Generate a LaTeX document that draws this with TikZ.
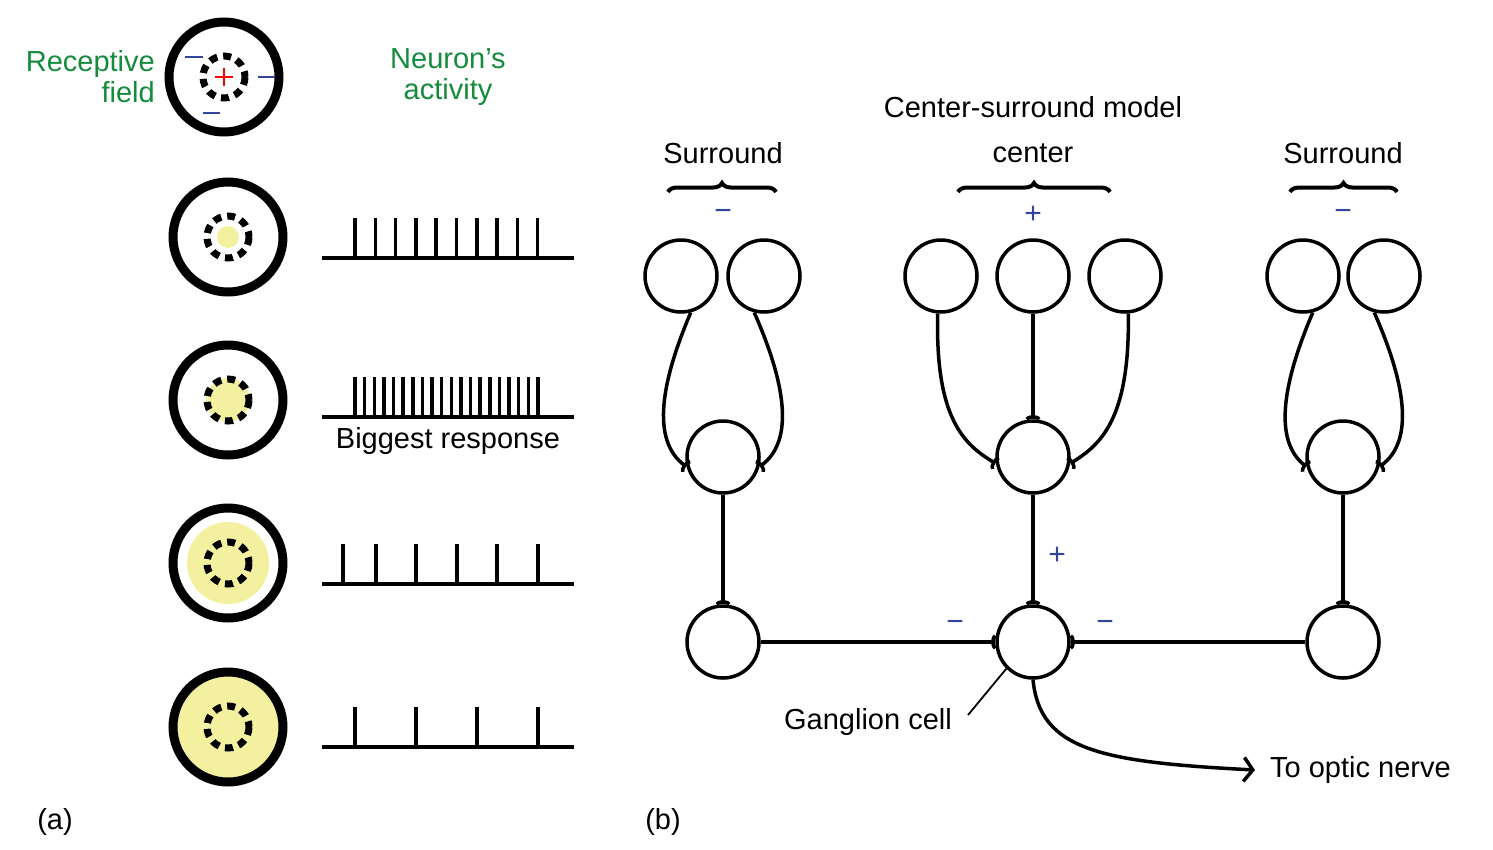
\documentclass[tikz,border=0pt]{standalone}
\usepackage{fontspec}
\setmainfont{Liberation Sans}
\usetikzlibrary{arrows.meta,decorations.pathreplacing}
\definecolor{grn}{RGB}{20,140,60}
\definecolor{blu}{RGB}{50,70,160}
\definecolor{yel}{RGB}{243,240,160}
\begin{document}
\begin{tikzpicture}[x=1pt,y=-1pt,
  txt/.style={font=\fontsize{29}{31}\selectfont,inner sep=0pt},
  gtxt/.style={txt,text=grn,align=center},
  sgn/.style={font=\fontsize{30}{30}\selectfont,text=blu,inner sep=0pt},
  cell/.style={circle,draw,line width=3.5,minimum size=72,inner sep=0},
  ring/.style={draw,line width=9},
  dring/.style={draw,line width=7,dash pattern=on 8 off 6},
  syn/.style={line width=3.5,-{Arc Barb[reversed,length=4pt,width=16pt,line width=3.5]}},
  wire/.style={line width=3.5},
  spk/.style={line width=3.5},
  brc/.style={line width=4,decoration={brace,amplitude=9pt},decorate}]
\useasboundingbox (0,0) rectangle (1493,849);
% ---------- panel (a)
\node[gtxt,align=right,anchor=east] (rf) at (155,77) {Receptive\\field};
\node[gtxt] (na) at (448,77) {Neuron’s\\activity};
\node[txt] (la) at (55,822) {(a)};
\node[txt] (lb) at (663,822) {(b)};
% row 1
\draw[ring] (224,77) circle (55);
\draw[dring] (224,77) circle (21);
\draw[red,line width=1.3] (215,77)--(233,77) (224,68)--(224,86);
\draw[blu,line width=2.2] (185,57)--(203,57) (258,77)--(275,77) (203,113)--(220,113);
% row 2
\fill[yel] (228,237) circle (11);
\draw[ring] (228,237) circle (55);
\draw[dring] (228,237) circle (21);
% row 3
\fill[yel] (228,400) circle (22);
\draw[ring] (228,400) circle (55);
\draw[dring] (228,400) circle (21);
% row 4
\fill[yel] (228,563) circle (41);
\draw[ring] (228,563) circle (55);
\draw[dring] (228,563) circle (21);
% row 5
\fill[yel] (228,727) circle (55);
\draw[ring] (228,727) circle (55);
\draw[dring] (228,727) circle (21);
% spike trains
\draw[spk] (322,258)--(574,258);
\foreach \i in {0,...,9} \draw[spk] (355+\i*20.3,258)--++(0,-40);
\draw[spk] (322,417)--(574,417);
\foreach \i in {0,...,19} \draw[spk] (355+\i*9.63,417)--++(0,-40);
\node[txt] (br) at (448,441) {Biggest response};
\draw[spk] (322,584)--(574,584);
\foreach \x in {343,376,416,457,497,538} \draw[spk] (\x,584)--++(0,-40);
\draw[spk] (322,747)--(574,747);
\foreach \x in {355,416,477,538} \draw[spk] (\x,747)--++(0,-40);
% ---------- panel (b)
\node[txt] (title) at (1033,107) {Center-surround model};
\node[txt] (s1) at (723,153) {Surround};
\node[txt] (c1) at (1033,153) {center};
\node[txt] (s2) at (1343,153) {Surround};
\draw[brc] (668,192)--(776,192);
\draw[brc] (958,192)--(1110,192);
\draw[brc] (1290,192)--(1397,192);
\node[sgn] (m1) at (723,215) {−};
\node[sgn] (p1) at (1033,215) {+};
\node[sgn] (m2) at (1343,215) {−};
\node[sgn] (p2) at (1057,556) {+};
\node[sgn] (m3) at (955,626) {−};
\node[sgn] (m4) at (1105,626) {−};
\node[cell] (a1) at (681,276) {};
\node[cell] (a2) at (764,276) {};
\node[cell] (b1) at (941,276) {};
\node[cell] (b2) at (1033,276) {};
\node[cell] (b3) at (1125,276) {};
\node[cell] (d1) at (1303,276) {};
\node[cell] (d2) at (1384,276) {};
\node[cell] (ma) at (723,457) {};
\node[cell] (mb) at (1033,457) {};
\node[cell] (mc) at (1343,457) {};
\node[cell] (ga) at (723,642) {};
\node[cell] (gb) at (1033,642) {};
\node[cell] (gc) at (1343,642) {};
\draw[syn] (a1.-75) .. controls (662,380) and (650,440) .. (ma.195);
\draw[syn] (a2.-105) .. controls (784,380) and (796,440) .. (ma.-15);
\draw[syn] (b1.-95) .. controls (935,420) and (965,445) .. (mb.190);
\draw[syn] (b2.south) -- (mb.north);
\draw[syn] (b3.-85) .. controls (1130,420) and (1100,445) .. (mb.-10);
\draw[syn] (d1.-75) .. controls (1284,380) and (1272,440) .. (mc.195);
\draw[syn] (d2.-105) .. controls (1404,380) and (1416,440) .. (mc.-15);
\draw[syn] (ma.south) -- (ga.north);
\draw[syn] (mb.south) -- (gb.north);
\draw[syn] (mc.south) -- (gc.north);
\draw[syn] (ga.east) -- (gb.west);
\draw[syn] (gc.west) -- (gb.east);
\node[txt,anchor=west] (opt) at (1270,770) {To optic nerve};
\coordinate (tip) at (1255,770);
\draw[wire,-{Straight Barb[length=9pt,width=24pt,line width=3.5]}] (gb.south) .. controls (1040,750) and (1100,762) .. (tip);
\node[txt] (gl) at (868,722) {Ganglion cell};
\draw[line width=1.8] (968,715) -- (gb.-135);
\end{tikzpicture}
\end{document}
